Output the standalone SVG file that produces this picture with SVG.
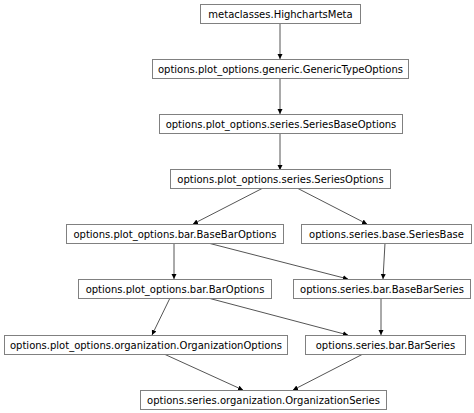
<svg xmlns="http://www.w3.org/2000/svg" width="474" height="413" viewBox="0 0 474 413">
<style>
.n rect{fill:#fff;stroke:#808080;stroke-width:1}
.n text{font-family:"DejaVu Sans",sans-serif;font-size:10px;fill:#000;text-anchor:middle;dominant-baseline:central}
#edges line{stroke:#555;stroke-width:1;marker-end:url(#a)}
</style>
<defs>
<marker id="a" markerWidth="6" markerHeight="6" refX="5" refY="3" orient="auto" markerUnits="userSpaceOnUse">
<path d="M0,0.5 L5,3 L0,5.5 z" fill="#000"/>
</marker>
</defs>
<rect width="474" height="413" fill="#fff"/>
<g id="edges">
<line x1="280" y1="23" x2="280" y2="59"/>
<line x1="280" y1="78" x2="280" y2="114"/>
<line x1="280" y1="133" x2="280" y2="170"/>
<line x1="263" y1="188" x2="193" y2="224"/>
<line x1="297" y1="188" x2="367" y2="224"/>
<line x1="174" y1="243" x2="174" y2="279"/>
<line x1="208" y1="243" x2="348" y2="279"/>
<line x1="385" y1="243" x2="383" y2="279"/>
<line x1="170" y1="298" x2="152" y2="335"/>
<line x1="208" y1="298" x2="348" y2="335"/>
<line x1="381" y1="298" x2="381" y2="335"/>
<line x1="164" y1="354" x2="243" y2="390"/>
<line x1="363" y1="354" x2="293" y2="390"/>
</g>
<g id="n1" class="n"><rect x="200.5" y="4.5" width="160" height="19"/><text x="280.5" y="14">metaclasses.HighchartsMeta</text></g>
<g id="n2" class="n"><rect x="152.5" y="59.5" width="256" height="19"/><text x="280.5" y="69">options.plot_options.generic.GenericTypeOptions</text></g>
<g id="n3" class="n"><rect x="159.5" y="114.5" width="243" height="19"/><text x="281" y="124">options.plot_options.series.SeriesBaseOptions</text></g>
<g id="n4" class="n"><rect x="170.5" y="169.5" width="220" height="19"/><text x="280.5" y="179">options.plot_options.series.SeriesOptions</text></g>
<g id="n5" class="n"><rect x="66.5" y="224.5" width="217" height="19"/><text x="175" y="234">options.plot_options.bar.BaseBarOptions</text></g>
<g id="n6" class="n"><rect x="301.5" y="224.5" width="170" height="19"/><text x="386.5" y="234">options.series.base.SeriesBase</text></g>
<g id="n7" class="n"><rect x="78.5" y="279.5" width="193" height="19"/><text x="175" y="289">options.plot_options.bar.BarOptions</text></g>
<g id="n8" class="n"><rect x="293.5" y="279.5" width="177" height="19"/><text x="382" y="289">options.series.bar.BaseBarSeries</text></g>
<g id="n9" class="n"><rect x="4.5" y="335.5" width="283" height="19"/><text x="146" y="345">options.plot_options.organization.OrganizationOptions</text></g>
<g id="n10" class="n"><rect x="305.5" y="335.5" width="160" height="19"/><text x="385.5" y="345">options.series.bar.BarSeries</text></g>
<g id="n11" class="n"><rect x="140.5" y="390.5" width="246" height="19"/><text x="263.5" y="400">options.series.organization.OrganizationSeries</text></g>
</svg>
